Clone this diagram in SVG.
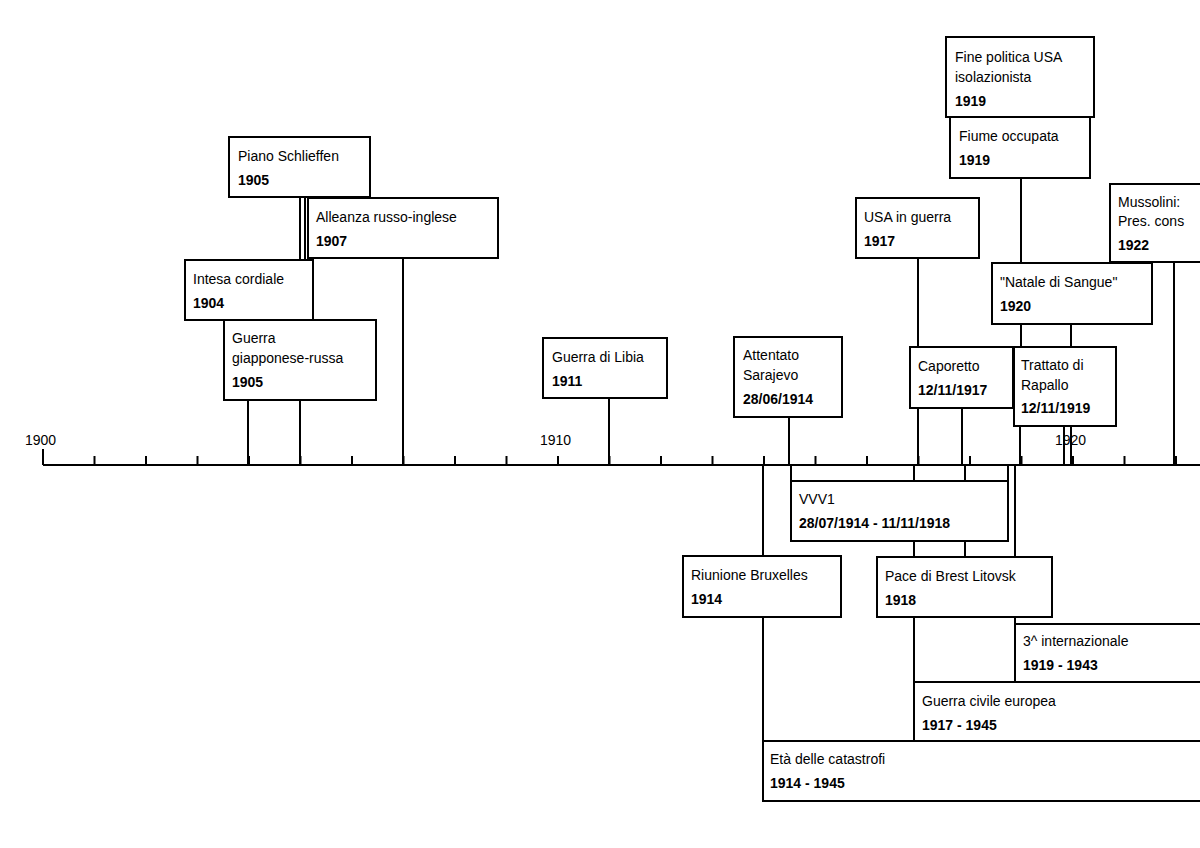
<svg xmlns="http://www.w3.org/2000/svg" width="1200" height="848" viewBox="0 0 1200 848">
<style>
rect{fill:#fff;stroke:#000;stroke-width:2}
line{stroke:#000;stroke-width:2}
text{font-family:"Liberation Sans",Arial,sans-serif;font-size:14px;fill:#000}
.b{font-weight:bold}
</style>
<rect x="0" y="0" width="1200" height="848" style="stroke:none"/>
<g id="axis">
<line x1="43" y1="465" x2="1200" y2="465"/>
<line x1="43" y1="449" x2="43" y2="465"/>
<line x1="94.5" y1="456" x2="94.5" y2="465"/><line x1="146" y1="456" x2="146" y2="465"/><line x1="197.5" y1="456" x2="197.5" y2="465"/><line x1="249" y1="456" x2="249" y2="465"/><line x1="300.5" y1="456" x2="300.5" y2="465"/><line x1="352" y1="456" x2="352" y2="465"/><line x1="403.5" y1="456" x2="403.5" y2="465"/><line x1="455" y1="456" x2="455" y2="465"/><line x1="506.5" y1="456" x2="506.5" y2="465"/><line x1="558" y1="456" x2="558" y2="465"/><line x1="609.5" y1="456" x2="609.5" y2="465"/><line x1="661" y1="456" x2="661" y2="465"/><line x1="712.5" y1="456" x2="712.5" y2="465"/><line x1="764" y1="456" x2="764" y2="465"/><line x1="815.5" y1="456" x2="815.5" y2="465"/><line x1="867" y1="456" x2="867" y2="465"/><line x1="918.5" y1="456" x2="918.5" y2="465"/><line x1="970" y1="456" x2="970" y2="465"/><line x1="1021.5" y1="456" x2="1021.5" y2="465"/><line x1="1073" y1="456" x2="1073" y2="465"/><line x1="1124.5" y1="456" x2="1124.5" y2="465"/><line x1="1176" y1="456" x2="1176" y2="465"/>
<text x="25" y="445">1900</text><text x="540" y="445">1910</text><text x="1055" y="445">1920</text>
</g>
<g id="connectors">
<line x1="300" y1="197" x2="300" y2="260"/><line x1="305" y1="197" x2="305" y2="260"/>
<line x1="248" y1="400" x2="248" y2="465"/><line x1="300" y1="400" x2="300" y2="465"/>
<line x1="403" y1="258" x2="403" y2="465"/>
<line x1="609" y1="398" x2="609" y2="465"/>
<line x1="789" y1="417" x2="789" y2="465"/>
<line x1="763" y1="465" x2="763" y2="556"/><line x1="763" y1="617" x2="763" y2="741"/>
<line x1="791" y1="465" x2="791" y2="481"/><line x1="1008" y1="465" x2="1008" y2="481"/>
<line x1="914" y1="465" x2="914" y2="481"/><line x1="965" y1="465" x2="965" y2="481"/>
<line x1="914" y1="541" x2="914" y2="557"/><line x1="965" y1="541" x2="965" y2="557"/>
<line x1="914" y1="617" x2="914" y2="682"/>
<line x1="1015" y1="465" x2="1015" y2="557"/><line x1="1015" y1="617" x2="1015" y2="624"/>
<line x1="1021" y1="178" x2="1021" y2="263"/>
<line x1="918" y1="258" x2="918" y2="347"/><line x1="918" y1="408" x2="918" y2="465"/>
<line x1="1174" y1="262" x2="1174" y2="465"/>
<line x1="1021" y1="324" x2="1021" y2="347"/><line x1="1071" y1="324" x2="1071" y2="347"/>
<line x1="962" y1="408" x2="962" y2="465"/>
<line x1="1020" y1="426" x2="1020" y2="465"/><line x1="1064" y1="426" x2="1064" y2="465"/><line x1="1071" y1="426" x2="1071" y2="465"/>
</g>
<g id="piano"><rect x="229" y="137" width="141" height="60"/><text x="238" y="161">Piano Schlieffen</text><text class="b" x="238" y="185">1905</text></g>
<g id="alleanza"><rect x="308" y="198" width="190" height="60"/><text x="316" y="222">Alleanza russo-inglese</text><text class="b" x="316" y="246">1907</text></g>
<g id="intesa"><rect x="185" y="260" width="128" height="60"/><text x="193" y="284">Intesa cordiale</text><text class="b" x="193" y="308">1904</text></g>
<g id="guerrarj"><rect x="224" y="320" width="152" height="80"/><text x="232" y="343">Guerra</text><text x="232" y="363">giapponese-russa</text><text class="b" x="232" y="387">1905</text></g>
<g id="libia"><rect x="543" y="338" width="124" height="60"/><text x="552" y="362">Guerra di Libia</text><text class="b" x="552" y="386">1911</text></g>
<g id="sarajevo"><rect x="734" y="337" width="108" height="80"/><text x="743" y="360">Attentato</text><text x="743" y="380">Sarajevo</text><text class="b" x="743" y="404">28/06/1914</text></g>
<g id="fine"><rect x="946" y="37" width="148" height="80"/><text x="955" y="62">Fine politica USA</text><text x="955" y="82">isolazionista</text><text class="b" x="955" y="106">1919</text></g>
<g id="fiume"><rect x="950" y="117" width="140" height="61"/><text x="959" y="141">Fiume occupata</text><text class="b" x="959" y="165">1919</text></g>
<g id="usa"><rect x="856" y="198" width="123" height="60"/><text x="864" y="222">USA in guerra</text><text class="b" x="864" y="246">1917</text></g>
<g id="mussolini"><rect x="1110" y="184" width="100" height="78"/><text x="1118" y="207">Mussolini:</text><text x="1118" y="226">Pres. cons</text><text class="b" x="1118" y="250">1922</text></g>
<g id="natale"><rect x="992" y="263" width="160" height="61"/><text x="1000" y="287">"Natale di Sangue"</text><text class="b" x="1000" y="311">1920</text></g>
<g id="caporetto"><rect x="910" y="347" width="103" height="61"/><text x="918" y="371">Caporetto</text><text class="b" x="918" y="395">12/11/1917</text></g>
<g id="rapallo"><rect x="1014" y="347" width="102" height="79"/><text x="1021" y="370">Trattato di</text><text x="1021" y="390">Rapallo</text><text class="b" x="1021" y="413">12/11/1919</text></g>
<g id="ww1"><rect x="791" y="481" width="217" height="60"/><text x="799" y="504">VVV1</text><text class="b" x="799" y="528">28/07/1914 - 11/11/1918</text></g>
<g id="bruxelles"><rect x="683" y="556" width="158" height="61"/><text x="691" y="580">Riunione Bruxelles</text><text class="b" x="691" y="604">1914</text></g>
<g id="brest"><rect x="877" y="557" width="175" height="60"/><text x="885" y="581">Pace di Brest Litovsk</text><text class="b" x="885" y="605">1918</text></g>
<g id="terza"><rect x="1015" y="624" width="200" height="58"/><text x="1023" y="646">3^ internazionale</text><text class="b" x="1023" y="670">1919 - 1943</text></g>
<g id="civile"><rect x="914" y="682" width="300" height="59"/><text x="922" y="706">Guerra civile europea</text><text class="b" x="922" y="730">1917 - 1945</text></g>
<g id="eta"><rect x="763" y="741" width="450" height="60"/><text x="770" y="764">Età delle catastrofi</text><text class="b" x="770" y="788">1914 - 1945</text></g>
</svg>
